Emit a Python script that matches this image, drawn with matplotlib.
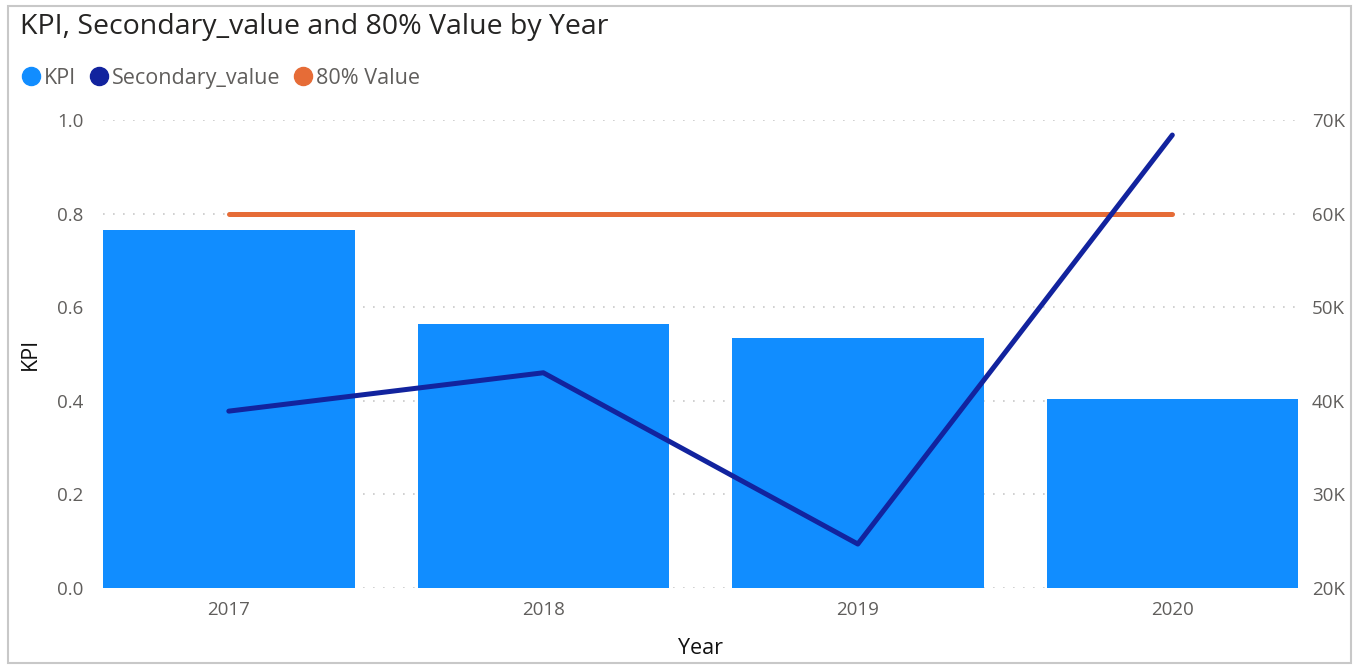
import numpy as np
import matplotlib.pyplot as plt
from matplotlib.lines import Line2D
from matplotlib.patches import Rectangle
from matplotlib.ticker import FuncFormatter

years = ['2017', '2018', '2019', '2020']
kpi = [0.765, 0.564, 0.535, 0.405]
secondary = [38900, 43000, 24700, 68400]
pct80 = [0.8, 0.8, 0.8, 0.8]

bar_c = '#118DFF'
line_c = '#12239E'
org_c = '#E66C37'
tick_c = '#605E5C'

plt.rcParams['font.family'] = ['Open Sans', 'DejaVu Sans']

fig = plt.figure(figsize=(13.59, 6.67), dpi=100)
ax = fig.add_axes([0.0758, 0.1184, 0.8794, 0.7016])
ax2 = ax.twinx()

x = np.arange(len(years))
ax.bar(x, kpi, width=0.8, color=bar_c, zorder=2)
ax.plot(x, pct80, color=org_c, linewidth=3.6, solid_capstyle='round', zorder=4)
ax2.plot(x, secondary, color=line_c, linewidth=3.6, solid_capstyle='round', zorder=5)

ax.set_xlim(-0.4, 3.4)
ax.set_ylim(0, 1.0)
ax2.set_ylim(20000, 70000)
ax.set_yticks([0, 0.2, 0.4, 0.6, 0.8, 1.0])
ax.set_yticklabels(['0.0', '0.2', '0.4', '0.6', '0.8', '1.0'])
ax2.set_yticks([20000, 30000, 40000, 50000, 60000, 70000])
ax2.yaxis.set_major_formatter(FuncFormatter(lambda v, p: f'{int(v/1000)}K'))
ax.set_xticks(x)
ax.set_xticklabels(years)

ax.grid(axis='y', color='#C8C8C8', linestyle=(0, (1, 5)), linewidth=1.2, zorder=0)
for a in (ax, ax2):
    for s in a.spines.values():
        s.set_visible(False)
    a.tick_params(length=0, colors=tick_c, labelsize=13.5)
ax.tick_params(axis='y', pad=14)
ax2.tick_params(axis='y', pad=10)
ax.tick_params(axis='x', pad=9)
ax.set_zorder(ax2.get_zorder() - 1)
ax2.patch.set_visible(False)

ax.set_ylabel('KPI', fontsize=15.5, color='#111111', labelpad=12)
ax.set_xlabel('Year', fontsize=15.5, color='#111111', labelpad=14)

fig.text(0.0145, 0.96, 'KPI, Secondary_value and 80% Value by Year',
         fontsize=20.5, color='#252423', va='center', ha='left')

handles = [Line2D([], [], marker='o', linestyle='', color=c, markersize=13)
           for c in (bar_c, line_c, org_c)]
fig.legend(handles, ['KPI', 'Secondary_value', '80% Value'], loc='center left',
           bbox_to_anchor=(0.008, 0.883), ncol=3, frameon=False, fontsize=15.5,
           handletextpad=0.05, columnspacing=0.5, labelcolor=tick_c,
           borderaxespad=0, handlelength=1.1)

fig.patches.append(Rectangle((0.006, 0.006), 0.988, 0.985, transform=fig.transFigure,
                             fill=False, edgecolor='#C8C8C8', linewidth=1.5))

fig.savefig('out.png', dpi=100)
